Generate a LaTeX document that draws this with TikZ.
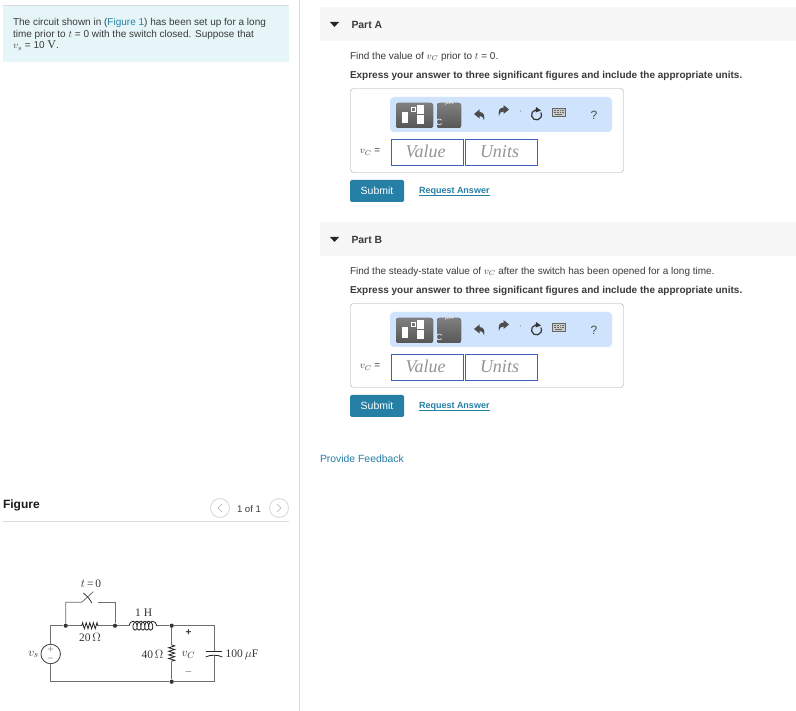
\documentclass[tikz,border=0pt]{standalone}
\usepackage{fontspec,amsmath}
\setmainfont{Liberation Sans}
\newfontfamily\circuitfont{Liberation Serif}
\usetikzlibrary{arrows.meta,decorations.pathmorphing}
\definecolor{bodytext}{HTML}{3A3A3A}
\definecolor{linkblue}{HTML}{267FA5}
\definecolor{introfill}{HTML}{E6F6F8}
\definecolor{bandfill}{HTML}{F7F7F7}
\definecolor{rulegray}{HTML}{D8DBDF}
\definecolor{barblue}{HTML}{CFE4FC}
\definecolor{inputblue}{HTML}{3F5FBF}
\definecolor{wiregray}{HTML}{6E6E6E}
\tikzset{
  txt/.style={anchor=base west,inner sep=0pt,outer sep=0pt,text=bodytext,font=\fontsize{10}{11}\selectfont},
  intro/.style={txt,font=\fontsize{10}{11}\selectfont},
  strong/.style={txt,font=\fontsize{10}{11}\selectfont\bfseries},
  parthead/.style={txt,font=\fontsize{10.4}{12}\selectfont\bfseries},
  inputbox/.style={draw=inputblue,line width=0.9pt,fill=white,minimum width=72pt,minimum height=26pt,inner sep=0pt,
    text height=12pt,text depth=0pt,text=black!42,font=\fontsize{18}{20}\selectfont\circuitfont\itshape},
  toolbtn/.style={top color=black!50,bottom color=black!66,rounded corners=2.5pt},
  wire/.style={draw=wiregray,line width=0.8pt},
  dot/.style={circle,fill=black!80,inner sep=0pt,minimum size=4.2pt},
  clabel/.style={inner sep=0pt,text=black!80,font=\fontsize{11.5}{13}\selectfont\circuitfont},
  navbtn/.style={circle,draw=black!14,line width=0.9pt,minimum size=19pt,inner sep=0pt}
}
\begin{document}
\begin{tikzpicture}[x=1pt,y=-1pt]
  \useasboundingbox (0,0) rectangle (796,711);
  \fill[white] (0,0) rectangle (796,711);
  % left column
  \fill[introfill] (3,5) rectangle (289,62);
  \draw[rulegray] (3,5.5) -- (289,5.5);
  \draw[rulegray,line width=1pt] (299.5,0) -- (299.5,711);
  \node[intro] (line1) at (13,25.5) {The circuit shown in (\textcolor{linkblue}{Figure 1}) has been set up for a long};
  \node[intro] (line2) at (13,37.3) {time prior to $t$ = 0 with the switch closed. Suppose that};
  \node[intro] (line3) at (13,49) {$v_s$ = 10 {\circuitfont\fontsize{12}{13}\selectfont V}.};
  \node[txt,font=\fontsize{12}{14}\selectfont\bfseries,text=black!90] (figtitle) at (3,508) {Figure};
  \draw[rulegray] (3,521.5) -- (289,521.5);
  \node[navbtn] (prevbtn) at (220,508) {};
  \node[navbtn] (nextbtn) at (279,508) {};
  \draw[black!30] (222,504) -- (218,508) -- (222,512);
  \draw[black!30] (277,504) -- (281,508) -- (277,512);
  \node[txt,font=\fontsize{9.6}{11}\selectfont] (pagecount) at (237,512) {1 of 1};
  % right column, the two parts
  \foreach \p/\dy/\ptitle/\pfind in {a/0/Part A/{Find the value of $v_C$ prior to $t$ = 0.},
      b/215/Part B/{Find the steady-state value of $v_C$ after the switch has been opened for a long time.}} {
    \begin{scope}[yshift=-\dy pt]
      \fill[bandfill] (320,7) rectangle (796,41.5);
      \fill[black!85] (330,22) -- (339,22) -- (334.5,27) -- cycle;
      \node[parthead] (title\p) at (351.5,28.6) {\ptitle};
      \node[txt] (find\p) at (350,59.5) {\pfind};
      \node[strong] (express\p) at (350,78.5) {Express your answer to three significant figures and include the appropriate units.};
      \draw[black!35,rounded corners=3pt] (350.5,88.5) rectangle (623.5,172.5);
      \fill[barblue,rounded corners=4pt] (390,97) rectangle (612,132);
      % template buttons
      \fill[toolbtn] (396,103) rectangle (433,128);
      \fill[white] (401.7,112) rectangle (408.3,122.7);
      \draw[white,line width=0.6pt] (411,107) rectangle (415,111.3);
      \fill[white] (417.3,105.3) rectangle (424,113.7);
      \draw[white] (417.3,114.8) -- (424,114.8);
      \fill[white] (417.3,116) rectangle (424,124.3);
      \fill[toolbtn] (437,103) rectangle (461,128);
      \begin{scope}
        \clip (437,103) rectangle (461,128);
        \node[inner sep=0pt,text=white,font=\fontsize{6}{7}\selectfont] (symtop\p) at (449,103.5) {$\mu$A};
        \node[inner sep=0pt,text=white,font=\fontsize{9}{10}\selectfont] (symc\p) at (439,122.5) {C};
      \end{scope}
      % undo, redo, reset, keyboard
      \fill[black!70] (474,114) -- (479.5,109.5) -- (479.5,112) .. controls (484,112) and (485,116) .. (484,120.5)
        .. controls (483,117) and (482,116) .. (479.5,116) -- (479.5,118.5) -- cycle;
      \fill[black!70] (509,109.5) -- (503.5,105) -- (503.5,107.5) .. controls (499,107.5) and (498,111.5) .. (499,116)
        .. controls (500,112.5) and (501,111.5) .. (503.5,111.5) -- (503.5,114) -- cycle;
      \draw[black!30] (520.5,110) -- (520.5,112);
      \draw[black!80,line width=1.2pt] (539,110.6) arc[start angle=-60,end angle=-390,x radius=5pt,y radius=-5pt];
      \fill[black!80] (536,107) -- (541,110.5) -- (535.5,112.5) -- cycle;
      \fill[black!20] (552,108) rectangle (565,116);
      \draw[black!60,line width=0.5pt] (552,108) rectangle (565,116);
      \draw[black!60,line width=0.6pt,dash pattern=on 1pt off 0.6pt] (553.5,110) -- (563.5,110);
      \draw[black!60,line width=0.6pt,dash pattern=on 1pt off 0.6pt] (553.5,112) -- (563.5,112);
      \draw[black!60,line width=0.6pt] (555,114.2) -- (562,114.2);
      \node[inner sep=0pt,text=black!70,font=\fontsize{12}{14}\selectfont] (help\p) at (594,115) {?};
      % answer row
      \node[inner sep=0pt,text=bodytext,font=\fontsize{10}{11}\selectfont] (label\p) at (370,152) {$v_C$\;=};
      \node[inputbox] (value\p) at (427.5,152) {\hspace*{-4pt}Value};
      \node[inputbox,minimum width=72.5pt] (units\p) at (501.5,152) {\hspace*{-4pt}Units};
      \node[fill=linkblue,rounded corners=1.5pt,minimum width=54pt,minimum height=22pt,inner sep=0pt,text=white,font=\fontsize{10.5}{12}\selectfont] (submit\p) at (377,191) {Submit};
      \node[txt,text=linkblue,font=\fontsize{9}{10}\selectfont\bfseries] (request\p) at (419,193.6) {Request Answer};
      \draw[linkblue,line width=0.5pt] (419,195.6) -- (490,195.6);
    \end{scope}
  }
  \node[txt,text=linkblue,font=\fontsize{10.4}{12}\selectfont] (feedback) at (320,462.5) {Provide Feedback};
  % circuit
  \node[dot] (A) at (65.7,625.7) {};
  \node[dot] (B) at (115,625.7) {};
  \node[dot] (C) at (171.7,625.7) {};
  \node[dot] (D) at (171.7,681.7) {};
  \node[circle,draw=black!75,line width=0.8pt,minimum size=19.5pt,inner sep=0pt] (vs) at (50.7,654) {};
  \coordinate (tl) at (50.7,625.7);
  \coordinate (bl) at (50.7,681.7);
  \coordinate (tr) at (214,625.7);
  \coordinate (br) at (214,681.7);
  \coordinate (swA) at (65.7,602.3);
  \coordinate (swB) at (81.7,602.3);
  \coordinate (swC) at (93.3,591.7);
  \coordinate (swD) at (98.3,602.3);
  \coordinate (swE) at (115,602.3);
  \coordinate (r1a) at (81.7,625.7);
  \coordinate (r1b) at (98,625.7);
  \coordinate (la) at (129,625.7);
  \coordinate (lb) at (158,625.7);
  \coordinate (r2a) at (171.7,645);
  \coordinate (r2b) at (171.7,661.7);
  \coordinate (capa) at (214,651.7);
  \coordinate (capb) at (214,654.6);
  \draw[wire] (vs) -- (tl) -- (A) -- (r1a);
  \draw[wire] (r1b) -- (B) -- (la);
  \draw[wire] (lb) -- (C) -- (tr) -- (capa);
  \draw[wire] (capb) -- (br) -- (D) -- (bl) -- (vs);
  \draw[wire] (A) -- (swA) -- (swB) -- (swC);
  \draw[wire] (swD) -- (swE) -- (B);
  \draw[wire,black!80] (83.3,593) .. controls (87,596) and (90,599) .. (91.7,603);
  \draw[wire,black!85,decorate,decoration={zigzag,segment length=3.6pt,amplitude=3pt}] (r1a) -- (r1b);
  \draw[wire,black!85,decorate,decoration={coil,aspect=0.7,segment length=3.9pt,amplitude=4.5pt}] (la) -- (lb);
  \draw[wire] (C) -- (r2a);
  \draw[wire,black!85,decorate,decoration={zigzag,segment length=3.6pt,amplitude=3pt}] (r2a) -- (r2b);
  \draw[wire] (r2b) -- (D);
  \draw[black!85,line width=0.8pt] (205.7,651.7) -- (222.3,651.7);
  \draw[black!85,line width=0.8pt] (205.7,657) .. controls (210,654.6) and (218,654.6) .. (222.3,657);
  \node[clabel] (switchlabel) at (91,584) {$t$\,=\,0};
  \node[clabel] (r1label) at (90,637) {20\,$\Omega$};
  \node[clabel] (llabel) at (143.6,612.5) {1 H};
  \node[clabel,font=\fontsize{13}{14}\selectfont] (vslabel) at (33.5,654.5) {$v_s$};
  \node[clabel,font=\fontsize{8}{9}\selectfont] (vsplus) at (50.7,649.3) {$+$};
  \node[clabel,font=\fontsize{8}{9}\selectfont] (vsminus) at (50.7,658.8) {$-$};
  \node[clabel] (r2label) at (152.5,654.5) {40\,$\Omega$};
  \node[clabel,font=\fontsize{10}{12}\selectfont\bfseries] (vcplus) at (188.5,633) {+};
  \node[clabel,font=\fontsize{13}{14}\selectfont] (vclabel) at (188.3,654.5) {$v_C$};
  \node[clabel,font=\fontsize{10}{12}\selectfont] (vcminus) at (188.5,672) {$-$};
  \node[clabel] (clabel) at (242,654.5) {100\,$\mu$F};
\end{tikzpicture}
\end{document}
